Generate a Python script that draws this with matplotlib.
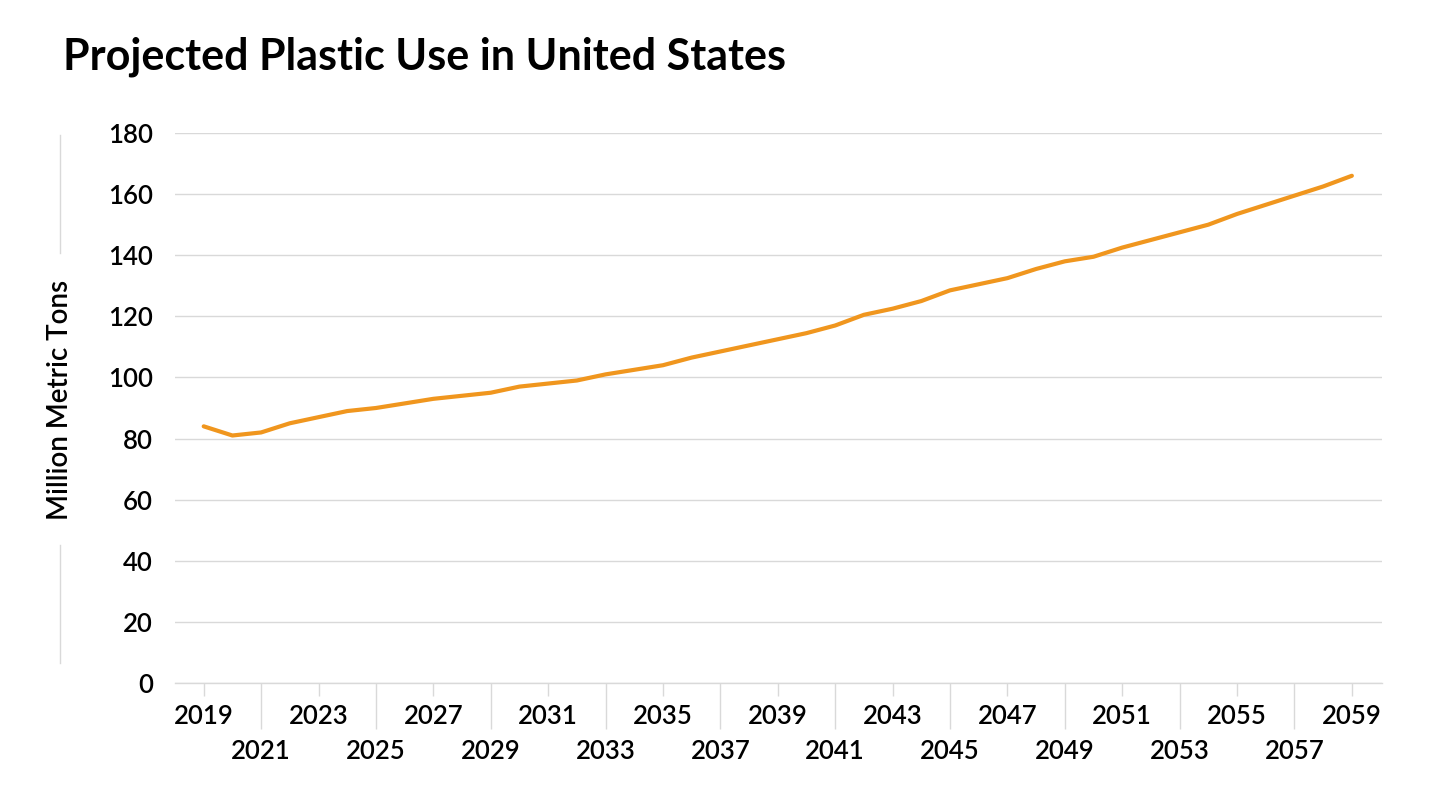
import numpy as np
import matplotlib
matplotlib.use('Agg')
import matplotlib.pyplot as plt
from matplotlib.lines import Line2D

# Data
years = np.arange(2019, 2060)
plastic_use = [84, 81, 82, 85, 87, 89, 90, 91.5, 93, 94,
               95, 97, 98, 99, 101, 102.5, 104, 106.5, 108.5, 110.5,
               112.5, 114.5, 117, 120.5, 122.5, 125, 128.5, 130.5, 132.5, 135.5,
               138, 139.5, 142.5, 145, 147.5, 150, 153.5, 156.5, 159.5, 162.5,
               166]
top_years = list(range(2019, 2060, 4))      # upper row of labels
bottom_years = list(range(2021, 2060, 4))   # lower row of labels
y_ticks = list(range(0, 181, 20))

plt.rcParams['font.family'] = ['Lato', 'DejaVu Sans']

fig = plt.figure(figsize=(14.29, 7.99), dpi=100)
ax = fig.add_axes([175 / 1429, 1 - 683 / 799, (1382 - 175) / 1429, (683 - 133) / 799])

ax.plot(years, plastic_use, color='#F0961E', linewidth=3, solid_capstyle='round')

ax.set_xlim(2018.0, 2060.05)
ax.set_ylim(0, 180)
ax.set_yticks(y_ticks)
ax.set_yticklabels([str(v) for v in y_ticks], fontsize=18.5, fontweight='semibold')
ax.tick_params(axis='y', length=0, pad=16)
ax.grid(axis='y', color='#d9d9d9', linewidth=1)
ax.set_axisbelow(True)

for s in ['top', 'right', 'left']:
    ax.spines[s].set_visible(False)
ax.spines['bottom'].set_color('#d9d9d9')
ax.spines['bottom'].set_linewidth(1)

# alternating rows: short ticks for the upper row, long ticks for the lower one
ax.set_xticks(top_years)
ax.set_xticklabels([str(y) for y in top_years], fontsize=18.5, fontweight='semibold')
ax.set_xticks(bottom_years, minor=True)
ax.set_xticklabels([str(y) for y in bottom_years], minor=True, fontsize=18.5, fontweight='semibold')
ax.tick_params(axis='x', which='major', color='#d9d9d9', width=1, length=9, pad=6)
ax.tick_params(axis='x', which='minor', color='#d9d9d9', width=1, length=33, pad=7)

fig.text(63 / 1429, 1 - 57 / 799, 'Projected Plastic Use in United States',
         fontsize=31, fontweight='bold', va='center', ha='left')

fig.text(60 / 1429, 1 - 400 / 799, 'Million Metric Tons', rotation=90,
         fontsize=20, fontweight='semibold', va='center', ha='center')
for y0, y1 in [(135, 253), (545, 663)]:
    fig.add_artist(Line2D([60 / 1429, 60 / 1429], [1 - y0 / 799, 1 - y1 / 799],
                          color='#d9d9d9', linewidth=1))

fig.savefig('out.png', dpi=100)
